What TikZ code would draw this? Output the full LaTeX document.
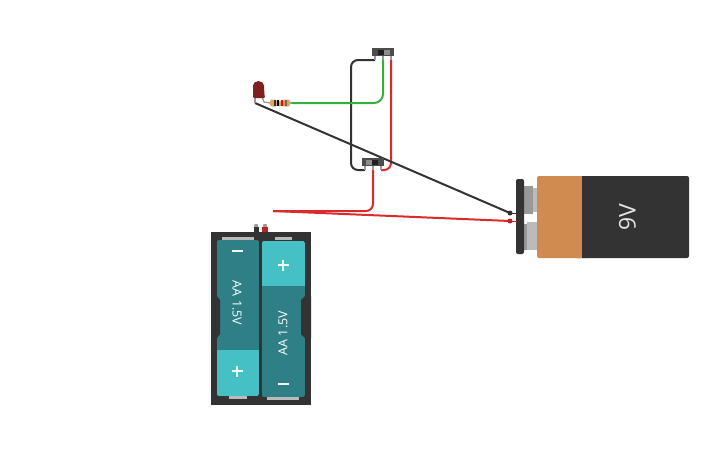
\documentclass[tikz,border=0pt]{standalone}
\usepackage{fontspec}
\setmainfont{Open Sans}
\definecolor{caseDark}{HTML}{333333}
\definecolor{cellTeal}{HTML}{2F7F86}
\definecolor{cellPlus}{HTML}{45C1C5}
\definecolor{clipGray}{HTML}{999999}
\definecolor{clipLight}{HTML}{BBBBBB}
\definecolor{batOrange}{HTML}{D08C50}
\definecolor{ledRed}{HTML}{7F1F1F}
\definecolor{resTan}{HTML}{D3A96C}
\definecolor{wireGreen}{HTML}{36AE3C}
\definecolor{wireRed}{HTML}{D92B2B}
\begin{document}
\begin{tikzpicture}[x=1pt, y=-1pt, line join=round]
      \useasboundingbox (0,0) rectangle (725,453);

      \tikzset{%
        block/.style={draw=none,inner sep=0pt,outer sep=0pt,rectangle},
        wire_red/.style={line width=2pt,draw=wireRed,rounded corners=7pt},
        wire_black/.style={line width=2pt,draw=caseDark,rounded corners=7pt},
        wire_green/.style={line width=2pt,draw=wireGreen,rounded corners=9pt},
        pin/.style={line width=1.3pt,draw=clipGray},
        cell_text/.style={text=white,font=\fontsize{12.5}{14}\selectfont},
      }

      % terminals
      \coordinate (ledA) at (255,103);
      \coordinate (ledB) at (264,102);
      \coordinate (resL) at (270,103);
      \coordinate (resR) at (292,103);
      \coordinate (clipBlack) at (510,213);
      \coordinate (clipRed) at (510,221);
      \coordinate (packRed) at (273,211);
      \coordinate (topA) at (375,60);
      \coordinate (topB) at (383,60);
      \coordinate (topC) at (391,60);
      \coordinate (lowA) at (365,170);
      \coordinate (lowB) at (373,170);
      \coordinate (lowC) at (381,170);

      % wires
      \draw[wire_black] (topA) -- (351,60) -- (351,170) -- (lowA);
      \draw[wire_red] (topC) -- (391,170) -- (lowC);
      \draw[wire_green] (resR) -- (383,103) -- (topB);
      \draw[wire_red] (lowB) -- (373,211) -- (packRed);
      \draw[wire_red] (packRed) -- (clipRed);
      \draw[wire_black] (ledA) -- (clipBlack);

      % switches
      \foreach \name/\x/\y in {top/372/48, low/362/158}{
        \begin{scope}[shift={(\x,\y)}]
          \draw[pin] (3,8) -- (3,12);
          \draw[pin] (11,8) -- (11,12);
          \draw[pin] (19,8) -- (19,12);
          \fill[black!70] (0,0) rectangle (22,8);
        \end{scope}
      }
      \fill[caseDark!60!black] (378,49.5) rectangle (390,54.5);
      \fill[black!45] (384,49.5) rectangle (390,54.5);
      \fill[caseDark!60!black] (366,159.5) rectangle (378,164.5);
      \fill[black!45] (366,159.5) rectangle (372,164.5);

      % LED and resistor
      \draw[pin] (255,97) -- (ledA);
      \draw[pin] (262,97) -- (ledB) -- (resL);
      \fill[ledRed,rounded corners=1pt] (253,98) -- (253,86.5)
        arc[start angle=180,end angle=360,radius=5.5] -- (264.5,95) -- (265,98) -- cycle;
      \draw[pin] (resL) -- (resR);
      \fill[resTan,rounded corners=2pt] (270,99.5) rectangle (277,106.5);
      \fill[resTan,rounded corners=2pt] (283,99.5) rectangle (290,106.5);
      \fill[resTan] (275,100.5) rectangle (285,105.5);
      \foreach \xa/\col in {274/black!70!resTan,277/black,281/red,285/black!40!resTan}{
        \fill[\col] (\xa,100) rectangle ++(1.7,6);
      }

      % 9V battery
      \fill[clipGray] (523,186) rectangle (533,214);
      \fill[clipLight] (533,188) rectangle (538,212);
      \fill[clipGray] (523,224) rectangle (527,250);
      \fill[clipLight] (527,222) rectangle (538,250);
      \fill[batOrange,rounded corners=2pt] (537,176) rectangle (590,258);
      \fill[caseDark,rounded corners=2pt] (575,176) rectangle (689,258);
      \fill[batOrange] (570,176) rectangle (582,258);
      \fill[caseDark,rounded corners=2pt] (516,179) rectangle (524,254);
      \fill[caseDark] (clipBlack) circle (2.5);
      \fill[wireRed!85!black] (clipRed) circle (2.5);
      \draw[caseDark,line width=1pt] (clipBlack) -- (517,213);
      \draw[wireRed!85!black,line width=1pt] (clipRed) -- (517,221);
      \node[block,text=white!90!black,rotate=90,font=\fontsize{23}{27}\selectfont] (volt) at (627.5,217) {9V};

      % battery pack
      \fill[clipGray] (254.5,224) -- (257.5,224) -- (259,232) -- (254,232) -- cycle;
      \fill[clipGray] (263.5,224) -- (266.5,224) -- (268,232) -- (262,232) -- cycle;
      \fill[caseDark] (254,226.5) rectangle (259,232);
      \fill[wireRed!85!black] (262,226.5) rectangle (267.5,232);
      \fill[caseDark] (211,232) rectangle (311,405);
      \foreach \xa/\ya/\w in {222/237/32, 275/237/17, 229/396/18, 267/397/32}{
        \fill[clipLight] (\xa,\ya) rectangle ++(\w,3);
      }
      \begin{scope}
        \clip[rounded corners=2pt] (217,240) rectangle (259,396);
        \fill[cellTeal] (217,240) rectangle (259,350);
        \fill[cellPlus] (217,350) rectangle (259,396);
      \end{scope}
      \begin{scope}
        \clip[rounded corners=2pt] (262,241) rectangle (305,397);
        \fill[cellPlus] (262,241) rectangle (305,286);
        \fill[cellTeal] (262,286) rectangle (305,397);
      \end{scope}
      \fill[caseDark] (211,296) -- (217,296) -- (220,300) -- (220,334) -- (217,338) -- (211,338) -- cycle;
      \fill[caseDark] (311,296) -- (305,296) -- (301,300) -- (301,334) -- (305,338) -- (311,338) -- cycle;

      \node[block,cell_text,rotate=-90] (cellA) at (237,303) {AA 1.5V};
      \node[block,cell_text,rotate=90] (cellB) at (283,333) {AA 1.5V};
      \foreach \xa/\ya in {237/371, 283/265}{
        \fill[white!93!cellPlus] (\xa-5.5,\ya-1) rectangle (\xa+5.5,\ya+1);
        \fill[white!93!cellPlus] (\xa-1,\ya-5.5) rectangle (\xa+1,\ya+5.5);
      }
      \foreach \xa/\ya in {237/251, 283/384}{
        \fill[white!93!cellTeal] (\xa-5.5,\ya-1) rectangle (\xa+5.5,\ya+1);
      }
    \end{tikzpicture}
\end{document}
